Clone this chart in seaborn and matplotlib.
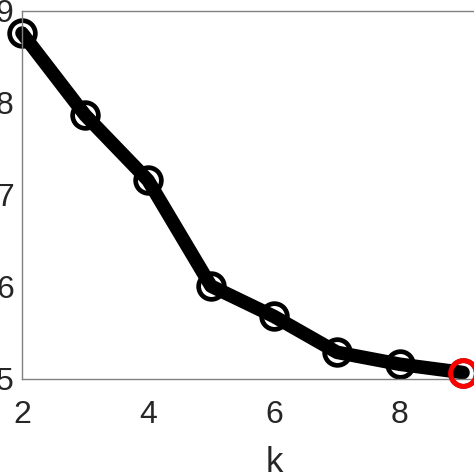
import matplotlib
matplotlib.use("Agg")
import matplotlib.pyplot as plt
import numpy as np
import pandas as pd
import seaborn as sns

# values
k_values = [2, 3, 4, 5, 6, 7, 8, 9]
scores = [8.76, 7.87, 7.16, 6.01, 5.68, 5.29, 5.16, 5.07]
best_k = 9

x_ticks = [2, 4, 6, 8]
y_ticks = [5, 6, 7, 8, 9]

sns.set_style("white")
plt.rcParams["font.family"] = ["Liberation Sans", "DejaVu Sans"]

df = pd.DataFrame({"k": k_values, "score": scores})

fig = plt.figure(figsize=(4.74, 4.74), dpi=100)
ax = fig.add_axes([22 / 474, 95 / 474, 504 / 474, 368 / 474])

sns.lineplot(data=df, x="k", y="score", ax=ax, color="black", linewidth=9.8,
             marker="o", markersize=18.5, markerfacecolor="none",
             markeredgecolor="black", markeredgewidth=3.4, clip_on=False)
best = df[df["k"] == best_k]
ax.plot(best["k"], best["score"], "o", markersize=18.5, markerfacecolor="none",
        markeredgecolor="red", markeredgewidth=3.6, zorder=5, clip_on=False)

ax.set_xlim(2, 10)
ax.set_ylim(5, 9)
ax.set_xticks(x_ticks)
ax.set_yticks(y_ticks)
ax.tick_params(direction="in", length=5, width=0.8, colors="#262626",
               labelsize=23, labelcolor="#262626")
ax.tick_params(axis="x", pad=15)
ax.tick_params(axis="y", pad=6)
for s in ax.spines.values():
    s.set_color("#808080")
    s.set_linewidth(1)
ax.set_xlabel("k", fontsize=25, color="#262626", labelpad=12)
ax.set_ylabel("")

fig.savefig("out.png", dpi=100)
